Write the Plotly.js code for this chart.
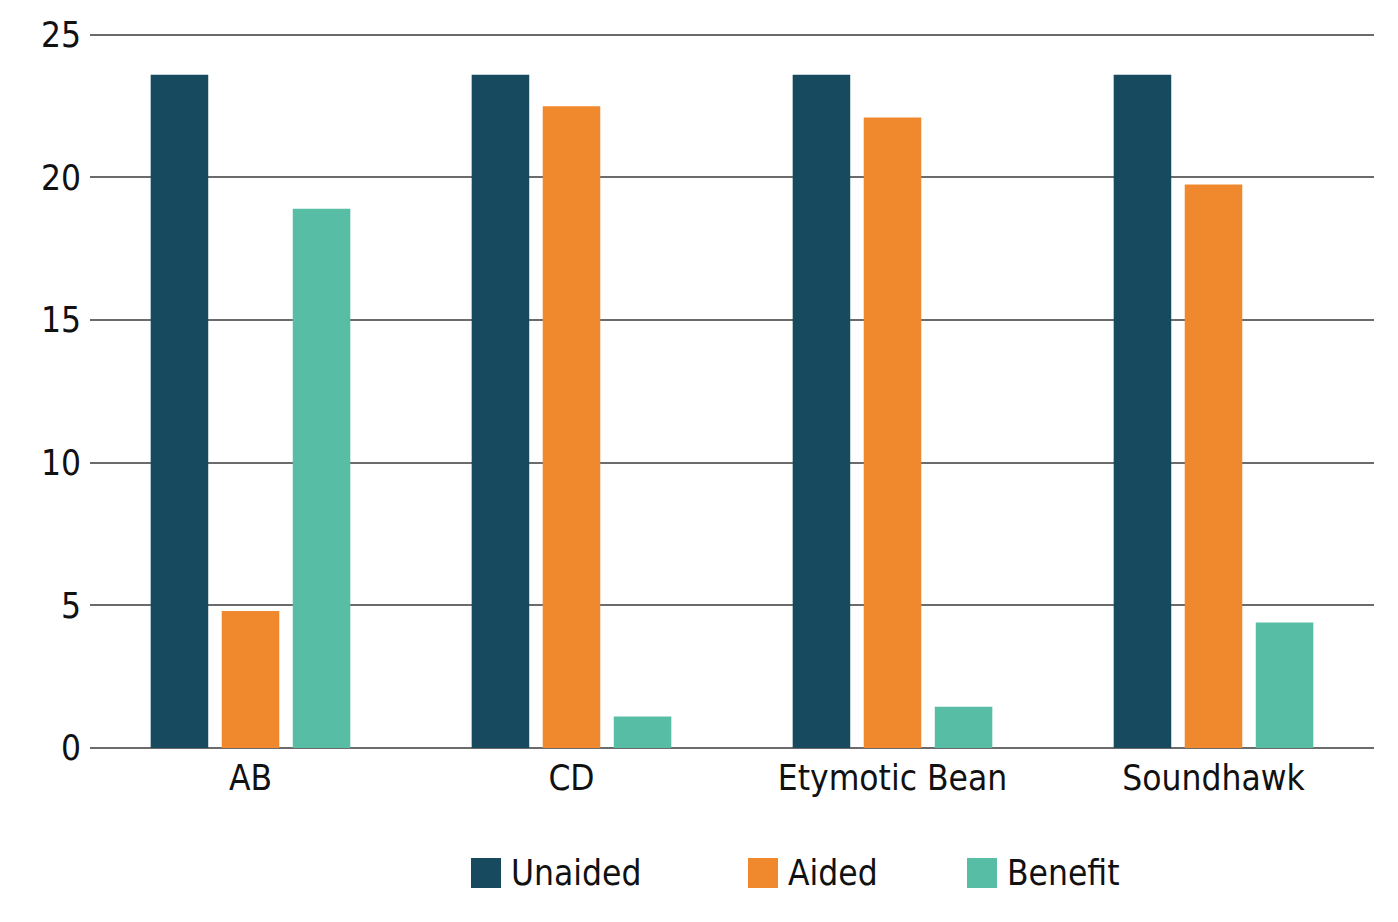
<!DOCTYPE html>
<html>
<head>
<meta charset="utf-8">
<script src="https://cdn.plot.ly/plotly-3.0.1.min.js"></script>
<style>html,body{margin:0;padding:0;background:#fff;}#chart{width:1398px;height:922px;}</style>
</head>
<body>
<div id="chart"></div>
<script>
const categories = ["AB", "CD", "Etymotic Bean", "Soundhawk"];
const seriesNames = ["Unaided", "Aided", "Benefit"];
const seriesColors = ["#17495f", "#f0892d", "#57bea5"];
const unaided = [23.6, 23.6, 23.6, 23.6];
const aided = [4.8, 22.5, 22.1, 19.75];
const benefit = [18.9, 1.1, 1.45, 4.4];
const yTicks = [0, 5, 10, 15, 20, 25];

const FONT = "'Liberation Sans Narrow', 'DejaVu Sans Condensed', 'Roboto Condensed', Arial, sans-serif";
const FS = 35;

const W = 1398, H = 922;
const M = {l: 90, r: 24, t: 32, b: 174};
const plotW = W - M.l - M.r, plotH = H - M.t - M.b;
const px2x = px => (px - M.l) / plotW;
const py2y = py => (H - M.b - py) / plotH;

const seriesValues = [unaided, aided, benefit];
const traces = seriesNames.map((n, i) => ({
  type: "bar", name: n, x: categories, y: seriesValues[i],
  marker: {color: seriesColors[i]}, showlegend: false
}));

// legend (drawn as shapes + text)
const legendSquareLeft = [471, 748, 967];
const shapes = [], annotations = [];
seriesNames.forEach((n, i) => {
  const x0 = legendSquareLeft[i];
  shapes.push({type: "rect", xref: "paper", yref: "paper",
    x0: px2x(x0), x1: px2x(x0 + 30), y0: py2y(888), y1: py2y(858),
    fillcolor: seriesColors[i], line: {width: 0}});
  annotations.push({xref: "paper", yref: "paper", x: px2x(x0 + 38), y: py2y(873),
    xanchor: "left", yanchor: "middle", showarrow: false, text: n,
    font: {family: FONT, size: FS, color: "#111"}});
});

const layout = {
  width: W, height: H,
  margin: M,
  paper_bgcolor: "#fff", plot_bgcolor: "#fff",
  font: {family: FONT, size: FS, color: "#111"},
  barmode: "group",
  bargap: 0.336,
  bargroupgap: 0.19,
  showlegend: false,
  shapes: shapes,
  annotations: annotations,
  xaxis: {
    type: "category", showgrid: false, zeroline: false, showline: false,
    ticks: "", ticklabelstandoff: 6, tickfont: {family: FONT, size: FS, color: "#111"}
  },
  yaxis: {
    range: [0, 25.1], tickvals: yTicks, ticktext: yTicks.map(String),
    showgrid: true, gridcolor: "#6b6b6b", gridwidth: 2,
    zeroline: true, zerolinecolor: "#6b6b6b", zerolinewidth: 2,
    showline: false, ticks: "", ticklabelstandoff: 8,
    tickfont: {family: FONT, size: FS, color: "#111"}
  }
};

Plotly.newPlot("chart", traces, layout, {displayModeBar: false, staticPlot: true});
</script>
</body>
</html>
